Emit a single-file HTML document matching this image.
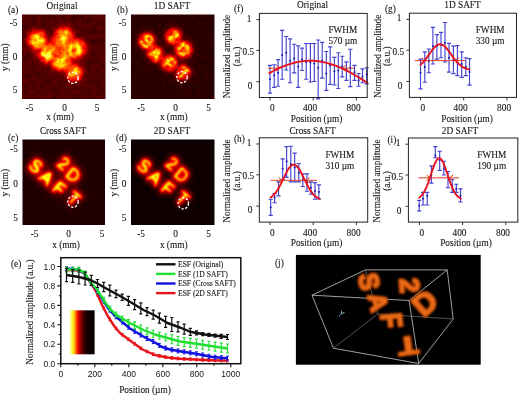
<!DOCTYPE html>
<html><head><meta charset="utf-8"><title>SAFT figure</title>
<style>html,body{margin:0;padding:0;background:#fff}svg{display:block}</style></head>
<body>
<svg width="520" height="396" viewBox="0 0 520 396">
<defs>

<filter id="hotA" filterUnits="userSpaceOnUse" x="-40" y="-40" width="200" height="200" color-interpolation-filters="sRGB">
<feGaussianBlur in="SourceGraphic" stdDeviation="1.5" result="a"/>
<feGaussianBlur in="SourceGraphic" stdDeviation="3.8" result="b"/>
<feComposite in="a" in2="b" operator="arithmetic" k1="0" k2="0.9" k3="1.0" k4="0" result="c"/>
<feTurbulence type="fractalNoise" baseFrequency="0.2" numOctaves="2" seed="4" result="n"/>
<feColorMatrix in="n" type="matrix" values="1 0 0 0 0 1 0 0 0 0 1 0 0 0 0 0 0 0 0 1" result="ng"/>
<feComposite in="c" in2="ng" operator="arithmetic" k1="0.9" k2="0.6" k3="0" k4="0"/>
<feComponentTransfer><feFuncA type="linear" slope="0" intercept="1"/></feComponentTransfer>
<feComponentTransfer>
<feFuncR type="table" tableValues="0.0 0.37 0.70 1 1 1 1 1 1"/>
<feFuncG type="table" tableValues="0 0 0 0.02 0.33 0.67 1 1 1"/>
<feFuncB type="table" tableValues="0 0 0 0 0 0 0.05 0.5 1"/>
</feComponentTransfer></filter>
<filter id="hotB" filterUnits="userSpaceOnUse" x="-40" y="-40" width="200" height="200" color-interpolation-filters="sRGB">
<feGaussianBlur in="SourceGraphic" stdDeviation="0.9" result="a"/>
<feGaussianBlur in="SourceGraphic" stdDeviation="3.2" result="b"/>
<feComposite in="a" in2="b" operator="arithmetic" k1="0" k2="1.0" k3="1.0" k4="0" result="c"/>
<feTurbulence type="fractalNoise" baseFrequency="0.26" numOctaves="2" seed="7" result="n"/>
<feColorMatrix in="n" type="matrix" values="1 0 0 0 0 1 0 0 0 0 1 0 0 0 0 0 0 0 0 1" result="ng"/>
<feComposite in="c" in2="ng" operator="arithmetic" k1="0.9" k2="0.6" k3="0" k4="0"/>
<feComponentTransfer><feFuncA type="linear" slope="0" intercept="1"/></feComponentTransfer>
<feComponentTransfer>
<feFuncR type="table" tableValues="0.0 0.37 0.70 1 1 1 1 1 1"/>
<feFuncG type="table" tableValues="0 0 0 0.02 0.33 0.67 1 1 1"/>
<feFuncB type="table" tableValues="0 0 0 0 0 0 0.05 0.5 1"/>
</feComponentTransfer></filter>
<filter id="hotC" filterUnits="userSpaceOnUse" x="-40" y="-40" width="200" height="200" color-interpolation-filters="sRGB">
<feGaussianBlur in="SourceGraphic" stdDeviation="1.15" result="a"/>
<feGaussianBlur in="SourceGraphic" stdDeviation="3.4" result="b"/>
<feGaussianBlur in="SourceGraphic" stdDeviation="6 0.9" result="h"/>
<feGaussianBlur in="SourceGraphic" stdDeviation="0.9 6" result="v"/>
<feComposite in="a" in2="b" operator="arithmetic" k1="0" k2="0.95" k3="1.2" k4="0" result="c"/>
<feComposite in="h" in2="v" operator="arithmetic" k1="0" k2="0.3" k3="0.3" k4="0" result="hv"/>
<feComposite in="c" in2="hv" operator="arithmetic" k1="0" k2="1" k3="1" k4="0"/>
<feComponentTransfer><feFuncA type="linear" slope="0" intercept="1"/></feComponentTransfer>
<feComponentTransfer>
<feFuncR type="table" tableValues="0.0 0.37 0.70 1 1 1 1 1 1"/>
<feFuncG type="table" tableValues="0 0 0 0.02 0.33 0.67 1 1 1"/>
<feFuncB type="table" tableValues="0 0 0 0 0 0 0.05 0.5 1"/>
</feComponentTransfer></filter>
<filter id="hotD" filterUnits="userSpaceOnUse" x="-40" y="-40" width="200" height="200" color-interpolation-filters="sRGB">
<feGaussianBlur in="SourceGraphic" stdDeviation="1.0" result="a"/>
<feGaussianBlur in="SourceGraphic" stdDeviation="3.2" result="b"/>
<feComposite in="a" in2="b" operator="arithmetic" k1="0" k2="1.0" k3="1.6" k4="0" result="c"/>

<feComponentTransfer><feFuncA type="linear" slope="0" intercept="1"/></feComponentTransfer>
<feComponentTransfer>
<feFuncR type="table" tableValues="0.0 0.37 0.70 1 1 1 1 1 1"/>
<feFuncG type="table" tableValues="0 0 0 0.02 0.33 0.67 1 1 1"/>
<feFuncB type="table" tableValues="0 0 0 0 0 0 0.05 0.5 1"/>
</feComponentTransfer></filter>
<filter id="soft" x="-20%" y="-20%" width="140%" height="140%"><feGaussianBlur stdDeviation="0.8"/></filter>
<linearGradient id="cbar" x1="0" y1="0" x2="1" y2="0">
<stop offset="0" stop-color="#fffff0"/><stop offset="0.07" stop-color="#ffff90"/><stop offset="0.15" stop-color="#ffee20"/><stop offset="0.22" stop-color="#ffb000"/><stop offset="0.29" stop-color="#ff5000"/><stop offset="0.36" stop-color="#e80000"/><stop offset="0.46" stop-color="#900000"/><stop offset="0.56" stop-color="#480000"/><stop offset="0.7" stop-color="#180000"/><stop offset="1" stop-color="#000"/>
</linearGradient>
</defs>
<rect width="520" height="396" fill="#fff"/>

<!-- panel a -->
<svg x="22" y="14.5" width="83.5" height="84.5" viewBox="0 0 83.5 84.5">
<g filter="url(#hotA)">
<rect x="-40" y="-40" width="200" height="200" fill="#0d0d0d"/>
<circle cx="15" cy="25.3" r="9.8" fill="#3e3e3e"/><circle cx="41.8" cy="20.8" r="9" fill="#3e3e3e"/><circle cx="54.5" cy="34" r="10" fill="#3e3e3e"/><circle cx="27" cy="39.5" r="9" fill="#3e3e3e"/><circle cx="40" cy="47.3" r="9.5" fill="#3e3e3e"/><circle cx="52.8" cy="58.8" r="8" fill="#3e3e3e"/><circle cx="33" cy="30.5" r="6.5" fill="#3e3e3e"/><circle cx="44" cy="35" r="6" fill="#3e3e3e"/>
<text transform="translate(42.5,21.8) rotate(40)" font-family="Liberation Sans, sans-serif" font-size="17" text-anchor="middle" dy="0.36em" fill="#3e3e3e" stroke="#3e3e3e" stroke-width="4.0" stroke-linejoin="round">2</text>
<text transform="translate(53,35) rotate(40)" font-family="Liberation Sans, sans-serif" font-size="17" text-anchor="middle" dy="0.36em" fill="#3e3e3e" stroke="#3e3e3e" stroke-width="4.0" stroke-linejoin="round">D</text>
<text transform="translate(16,26.5) rotate(40)" font-family="Liberation Sans, sans-serif" font-size="17" text-anchor="middle" dy="0.36em" fill="#3e3e3e" stroke="#3e3e3e" stroke-width="4.0" stroke-linejoin="round">S</text>
<text transform="translate(24.8,39.3) rotate(40)" font-family="Liberation Sans, sans-serif" font-size="17" text-anchor="middle" dy="0.36em" fill="#3e3e3e" stroke="#3e3e3e" stroke-width="4.0" stroke-linejoin="round">A</text>
<text transform="translate(38.5,49) rotate(40)" font-family="Liberation Sans, sans-serif" font-size="17" text-anchor="middle" dy="0.36em" fill="#3e3e3e" stroke="#3e3e3e" stroke-width="4.0" stroke-linejoin="round">F</text>
<text transform="translate(52,58.5) rotate(40)" font-family="Liberation Sans, sans-serif" font-size="17" text-anchor="middle" dy="0.36em" fill="#3e3e3e" stroke="#3e3e3e" stroke-width="4.0" stroke-linejoin="round">T</text>
<text transform="translate(42.5,21.8) rotate(40)" font-family="Liberation Sans, sans-serif" font-size="17" text-anchor="middle" dy="0.36em" fill="#747474" stroke="#747474" stroke-width="1.2" stroke-linejoin="round">2</text>
<text transform="translate(53,35) rotate(40)" font-family="Liberation Sans, sans-serif" font-size="17" text-anchor="middle" dy="0.36em" fill="#747474" stroke="#747474" stroke-width="1.2" stroke-linejoin="round">D</text>
<text transform="translate(16,26.5) rotate(40)" font-family="Liberation Sans, sans-serif" font-size="17" text-anchor="middle" dy="0.36em" fill="#747474" stroke="#747474" stroke-width="1.2" stroke-linejoin="round">S</text>
<text transform="translate(24.8,39.3) rotate(40)" font-family="Liberation Sans, sans-serif" font-size="17" text-anchor="middle" dy="0.36em" fill="#747474" stroke="#747474" stroke-width="1.2" stroke-linejoin="round">A</text>
<text transform="translate(38.5,49) rotate(40)" font-family="Liberation Sans, sans-serif" font-size="17" text-anchor="middle" dy="0.36em" fill="#747474" stroke="#747474" stroke-width="1.2" stroke-linejoin="round">F</text>
<text transform="translate(52,58.5) rotate(40)" font-family="Liberation Sans, sans-serif" font-size="17" text-anchor="middle" dy="0.36em" fill="#747474" stroke="#747474" stroke-width="1.2" stroke-linejoin="round">T</text>
</g>
<ellipse cx="51" cy="63.3" rx="5.2" ry="5.6" fill="none" stroke="#fff" stroke-width="1.3" stroke-dasharray="2.4 1.5"/>
</svg>
<text x="62" y="8.7" font-size="9.3" text-anchor="middle" font-family="Liberation Serif, serif" fill="#151515" stroke="#151515" stroke-width="0.1" >Original</text>
<text x="8" y="12.5" font-size="9.3" text-anchor="start" font-family="Liberation Serif, serif" fill="#151515" stroke="#151515" stroke-width="0.1" >(a)</text>
<text x="17.5" y="26" font-size="9.3" text-anchor="end" font-family="Liberation Serif, serif" fill="#151515" stroke="#151515" stroke-width="0.1" >-5</text>
<text x="17.5" y="59.5" font-size="9.3" text-anchor="end" font-family="Liberation Serif, serif" fill="#151515" stroke="#151515" stroke-width="0.1" >0</text>
<text x="17.5" y="93" font-size="9.3" text-anchor="end" font-family="Liberation Serif, serif" fill="#151515" stroke="#151515" stroke-width="0.1" >5</text>
<text x="29.5" y="111.0" font-size="9.3" text-anchor="middle" font-family="Liberation Serif, serif" fill="#151515" stroke="#151515" stroke-width="0.1" >-5</text>
<text x="64.5" y="111.0" font-size="9.3" text-anchor="middle" font-family="Liberation Serif, serif" fill="#151515" stroke="#151515" stroke-width="0.1" >0</text>
<text x="97" y="111.0" font-size="9.3" text-anchor="middle" font-family="Liberation Serif, serif" fill="#151515" stroke="#151515" stroke-width="0.1" >5</text>
<text transform="translate(8,57.25) rotate(-90)" font-size="9.3" text-anchor="middle" font-family="Liberation Serif, serif" fill="#151515" stroke="#151515" stroke-width="0.1">y (mm)</text>
<text x="60" y="119.7" font-size="9.3" text-anchor="middle" font-family="Liberation Serif, serif" fill="#151515" stroke="#151515" stroke-width="0.1" >x (mm)</text>
<!-- panel b -->
<svg x="131" y="14.5" width="83.5" height="84.5" viewBox="0 0 83.5 84.5">
<g filter="url(#hotB)">
<rect x="-40" y="-40" width="200" height="200" fill="#070707"/>
<circle cx="16" cy="26.5" r="9" fill="#2a2a2a"/><circle cx="42.5" cy="21.5" r="8.5" fill="#2a2a2a"/><circle cx="53" cy="35" r="9" fill="#2a2a2a"/><circle cx="25" cy="39.5" r="8" fill="#2a2a2a"/><circle cx="38.5" cy="49" r="8.5" fill="#2a2a2a"/><circle cx="52" cy="58.5" r="7.5" fill="#2a2a2a"/>
<text transform="translate(42.5,21.8) rotate(40)" font-family="Liberation Sans, sans-serif" font-size="17" text-anchor="middle" dy="0.36em" fill="#282828" stroke="#282828" stroke-width="2.4" stroke-linejoin="round">2</text>
<text transform="translate(53,35) rotate(40)" font-family="Liberation Sans, sans-serif" font-size="17" text-anchor="middle" dy="0.36em" fill="#282828" stroke="#282828" stroke-width="2.4" stroke-linejoin="round">D</text>
<text transform="translate(16,26.5) rotate(40)" font-family="Liberation Sans, sans-serif" font-size="17" text-anchor="middle" dy="0.36em" fill="#282828" stroke="#282828" stroke-width="2.4" stroke-linejoin="round">S</text>
<text transform="translate(24.8,39.3) rotate(40)" font-family="Liberation Sans, sans-serif" font-size="17" text-anchor="middle" dy="0.36em" fill="#282828" stroke="#282828" stroke-width="2.4" stroke-linejoin="round">A</text>
<text transform="translate(38.5,49) rotate(40)" font-family="Liberation Sans, sans-serif" font-size="17" text-anchor="middle" dy="0.36em" fill="#282828" stroke="#282828" stroke-width="2.4" stroke-linejoin="round">F</text>
<text transform="translate(52,58.5) rotate(40)" font-family="Liberation Sans, sans-serif" font-size="17" text-anchor="middle" dy="0.36em" fill="#282828" stroke="#282828" stroke-width="2.4" stroke-linejoin="round">T</text>
<text transform="translate(42.5,21.8) rotate(40)" font-family="Liberation Sans, sans-serif" font-size="17" text-anchor="middle" dy="0.36em" fill="#7e7e7e" stroke="#7e7e7e" stroke-width="0.6" stroke-linejoin="round">2</text>
<text transform="translate(53,35) rotate(40)" font-family="Liberation Sans, sans-serif" font-size="17" text-anchor="middle" dy="0.36em" fill="#7e7e7e" stroke="#7e7e7e" stroke-width="0.6" stroke-linejoin="round">D</text>
<text transform="translate(16,26.5) rotate(40)" font-family="Liberation Sans, sans-serif" font-size="17" text-anchor="middle" dy="0.36em" fill="#7e7e7e" stroke="#7e7e7e" stroke-width="0.6" stroke-linejoin="round">S</text>
<text transform="translate(24.8,39.3) rotate(40)" font-family="Liberation Sans, sans-serif" font-size="17" text-anchor="middle" dy="0.36em" fill="#7e7e7e" stroke="#7e7e7e" stroke-width="0.6" stroke-linejoin="round">A</text>
<text transform="translate(38.5,49) rotate(40)" font-family="Liberation Sans, sans-serif" font-size="17" text-anchor="middle" dy="0.36em" fill="#7e7e7e" stroke="#7e7e7e" stroke-width="0.6" stroke-linejoin="round">F</text>
<text transform="translate(52,58.5) rotate(40)" font-family="Liberation Sans, sans-serif" font-size="17" text-anchor="middle" dy="0.36em" fill="#7e7e7e" stroke="#7e7e7e" stroke-width="0.6" stroke-linejoin="round">T</text>
</g>
<ellipse cx="51" cy="62.7" rx="5.2" ry="5.6" fill="none" stroke="#fff" stroke-width="1.3" stroke-dasharray="2.4 1.5"/>
</svg>
<text x="172" y="8.7" font-size="9.3" text-anchor="middle" font-family="Liberation Serif, serif" fill="#151515" stroke="#151515" stroke-width="0.1" >1D SAFT</text>
<text x="117" y="12.5" font-size="9.3" text-anchor="start" font-family="Liberation Serif, serif" fill="#151515" stroke="#151515" stroke-width="0.1" >(b)</text>
<text x="126.5" y="26" font-size="9.3" text-anchor="end" font-family="Liberation Serif, serif" fill="#151515" stroke="#151515" stroke-width="0.1" >-5</text>
<text x="126.5" y="59.5" font-size="9.3" text-anchor="end" font-family="Liberation Serif, serif" fill="#151515" stroke="#151515" stroke-width="0.1" >0</text>
<text x="126.5" y="93" font-size="9.3" text-anchor="end" font-family="Liberation Serif, serif" fill="#151515" stroke="#151515" stroke-width="0.1" >5</text>
<text x="141" y="111.0" font-size="9.3" text-anchor="middle" font-family="Liberation Serif, serif" fill="#151515" stroke="#151515" stroke-width="0.1" >-5</text>
<text x="175.5" y="111.0" font-size="9.3" text-anchor="middle" font-family="Liberation Serif, serif" fill="#151515" stroke="#151515" stroke-width="0.1" >0</text>
<text x="208.7" y="111.0" font-size="9.3" text-anchor="middle" font-family="Liberation Serif, serif" fill="#151515" stroke="#151515" stroke-width="0.1" >5</text>
<text transform="translate(117,57.25) rotate(-90)" font-size="9.3" text-anchor="middle" font-family="Liberation Serif, serif" fill="#151515" stroke="#151515" stroke-width="0.1">y (mm)</text>
<text x="173.7" y="119.7" font-size="9.3" text-anchor="middle" font-family="Liberation Serif, serif" fill="#151515" stroke="#151515" stroke-width="0.1" >x (mm)</text>
<!-- panel c -->
<svg x="22.5" y="139.5" width="82.5" height="85.5" viewBox="0 0 82.5 85.5">
<g filter="url(#hotC)">
<rect x="-40" y="-40" width="200" height="200" fill="#040404"/>

<text transform="translate(41.3,23.7) rotate(40)" font-family="Liberation Sans, sans-serif" font-size="18" text-anchor="middle" dy="0.36em" fill="#6c6c6c" stroke="#6c6c6c" stroke-width="1.3" stroke-linejoin="round">2</text>
<text transform="translate(51,35.2) rotate(40)" font-family="Liberation Sans, sans-serif" font-size="18" text-anchor="middle" dy="0.36em" fill="#6c6c6c" stroke="#6c6c6c" stroke-width="1.3" stroke-linejoin="round">D</text>
<text transform="translate(13.6,26.4) rotate(40)" font-family="Liberation Sans, sans-serif" font-size="18" text-anchor="middle" dy="0.36em" fill="#6c6c6c" stroke="#6c6c6c" stroke-width="1.3" stroke-linejoin="round">S</text>
<text transform="translate(24.2,37.8) rotate(40)" font-family="Liberation Sans, sans-serif" font-size="18" text-anchor="middle" dy="0.36em" fill="#6c6c6c" stroke="#6c6c6c" stroke-width="1.3" stroke-linejoin="round">A</text>
<text transform="translate(36.9,48.8) rotate(40)" font-family="Liberation Sans, sans-serif" font-size="18" text-anchor="middle" dy="0.36em" fill="#6c6c6c" stroke="#6c6c6c" stroke-width="1.3" stroke-linejoin="round">F</text>
<text transform="translate(51.7,58.9) rotate(40)" font-family="Liberation Sans, sans-serif" font-size="18" text-anchor="middle" dy="0.36em" fill="#6c6c6c" stroke="#6c6c6c" stroke-width="1.3" stroke-linejoin="round">T</text>
</g>
<ellipse cx="50.5" cy="62.2" rx="5.2" ry="5.6" fill="none" stroke="#fff" stroke-width="1.3" stroke-dasharray="2.4 1.5"/>
</svg>
<text x="63" y="134.0" font-size="9.3" text-anchor="middle" font-family="Liberation Serif, serif" fill="#151515" stroke="#151515" stroke-width="0.1" >Cross SAFT</text>
<text x="8" y="140.5" font-size="9.3" text-anchor="start" font-family="Liberation Serif, serif" fill="#151515" stroke="#151515" stroke-width="0.1" >(c)</text>
<text x="18.0" y="152" font-size="9.3" text-anchor="end" font-family="Liberation Serif, serif" fill="#151515" stroke="#151515" stroke-width="0.1" >-5</text>
<text x="18.0" y="186.5" font-size="9.3" text-anchor="end" font-family="Liberation Serif, serif" fill="#151515" stroke="#151515" stroke-width="0.1" >0</text>
<text x="18.0" y="220.5" font-size="9.3" text-anchor="end" font-family="Liberation Serif, serif" fill="#151515" stroke="#151515" stroke-width="0.1" >5</text>
<text x="34.5" y="236.8" font-size="9.3" text-anchor="middle" font-family="Liberation Serif, serif" fill="#151515" stroke="#151515" stroke-width="0.1" >-5</text>
<text x="68.7" y="236.8" font-size="9.3" text-anchor="middle" font-family="Liberation Serif, serif" fill="#151515" stroke="#151515" stroke-width="0.1" >0</text>
<text x="102" y="236.8" font-size="9.3" text-anchor="middle" font-family="Liberation Serif, serif" fill="#151515" stroke="#151515" stroke-width="0.1" >5</text>
<text transform="translate(8,182.75) rotate(-90)" font-size="9.3" text-anchor="middle" font-family="Liberation Serif, serif" fill="#151515" stroke="#151515" stroke-width="0.1">y (mm)</text>
<text x="66" y="248.0" font-size="9.3" text-anchor="middle" font-family="Liberation Serif, serif" fill="#151515" stroke="#151515" stroke-width="0.1" >x (mm)</text>
<!-- panel d -->
<svg x="131" y="139.5" width="83.5" height="85.5" viewBox="0 0 83.5 85.5">
<g filter="url(#hotD)">
<rect x="-40" y="-40" width="200" height="200" fill="#020202"/>

<text transform="translate(41.3,23.7) rotate(40)" font-family="Liberation Sans, sans-serif" font-size="18" text-anchor="middle" dy="0.36em" fill="#6e6e6e" stroke="#6e6e6e" stroke-width="1.2" stroke-linejoin="round">2</text>
<text transform="translate(51,35.2) rotate(40)" font-family="Liberation Sans, sans-serif" font-size="18" text-anchor="middle" dy="0.36em" fill="#6e6e6e" stroke="#6e6e6e" stroke-width="1.2" stroke-linejoin="round">D</text>
<text transform="translate(13.6,26.4) rotate(40)" font-family="Liberation Sans, sans-serif" font-size="18" text-anchor="middle" dy="0.36em" fill="#6e6e6e" stroke="#6e6e6e" stroke-width="1.2" stroke-linejoin="round">S</text>
<text transform="translate(24.2,37.8) rotate(40)" font-family="Liberation Sans, sans-serif" font-size="18" text-anchor="middle" dy="0.36em" fill="#6e6e6e" stroke="#6e6e6e" stroke-width="1.2" stroke-linejoin="round">A</text>
<text transform="translate(36.9,48.8) rotate(40)" font-family="Liberation Sans, sans-serif" font-size="18" text-anchor="middle" dy="0.36em" fill="#6e6e6e" stroke="#6e6e6e" stroke-width="1.2" stroke-linejoin="round">F</text>
<text transform="translate(51.7,58.9) rotate(40)" font-family="Liberation Sans, sans-serif" font-size="18" text-anchor="middle" dy="0.36em" fill="#6e6e6e" stroke="#6e6e6e" stroke-width="1.2" stroke-linejoin="round">T</text>
</g>
<ellipse cx="52.3" cy="63.8" rx="5.2" ry="5.6" fill="none" stroke="#fff" stroke-width="1.3" stroke-dasharray="2.4 1.5"/>
</svg>
<text x="172" y="134.0" font-size="9.3" text-anchor="middle" font-family="Liberation Serif, serif" fill="#151515" stroke="#151515" stroke-width="0.1" >2D SAFT</text>
<text x="116" y="140.5" font-size="9.3" text-anchor="start" font-family="Liberation Serif, serif" fill="#151515" stroke="#151515" stroke-width="0.1" >(d)</text>
<text x="126.5" y="152" font-size="9.3" text-anchor="end" font-family="Liberation Serif, serif" fill="#151515" stroke="#151515" stroke-width="0.1" >-5</text>
<text x="126.5" y="186.5" font-size="9.3" text-anchor="end" font-family="Liberation Serif, serif" fill="#151515" stroke="#151515" stroke-width="0.1" >0</text>
<text x="126.5" y="220.5" font-size="9.3" text-anchor="end" font-family="Liberation Serif, serif" fill="#151515" stroke="#151515" stroke-width="0.1" >5</text>
<text x="141" y="236.8" font-size="9.3" text-anchor="middle" font-family="Liberation Serif, serif" fill="#151515" stroke="#151515" stroke-width="0.1" >-5</text>
<text x="175.5" y="236.8" font-size="9.3" text-anchor="middle" font-family="Liberation Serif, serif" fill="#151515" stroke="#151515" stroke-width="0.1" >0</text>
<text x="208.7" y="236.8" font-size="9.3" text-anchor="middle" font-family="Liberation Serif, serif" fill="#151515" stroke="#151515" stroke-width="0.1" >5</text>
<text transform="translate(117,182.75) rotate(-90)" font-size="9.3" text-anchor="middle" font-family="Liberation Serif, serif" fill="#151515" stroke="#151515" stroke-width="0.1">y (mm)</text>
<text x="173.7" y="248.0" font-size="9.3" text-anchor="middle" font-family="Liberation Serif, serif" fill="#151515" stroke="#151515" stroke-width="0.1" >x (mm)</text>
<!-- panel f -->
<path d="M270.0 65.4V93.1M267.9 65.4h4.2M267.9 93.1h4.2M274.2 64.7V87.3M272.1 64.7h4.2M272.1 87.3h4.2M278.1 59.6V86.2M276.0 59.6h4.2M276.0 86.2h4.2M282.2 30.3V79.2M280.1 30.3h4.2M280.1 79.2h4.2M286.2 36.5V70.0M284.1 36.5h4.2M284.1 70.0h4.2M290.1 38.8V82.7M288.0 38.8h4.2M288.0 82.7h4.2M294.2 44.2V72.8M292.1 44.2h4.2M292.1 72.8h4.2M298.2 45.8V87.3M296.1 45.8h4.2M296.1 87.3h4.2M302.1 48.1V70.5M300.0 48.1h4.2M300.0 70.5h4.2M306.2 43.5V79.2M304.1 43.5h4.2M304.1 79.2h4.2M310.4 43.5V82.0M308.3 43.5h4.2M308.3 82.0h4.2M314.3 43.5V81.5M312.2 43.5h4.2M312.2 81.5h4.2M318.2 40.0V98.9M316.1 40.0h4.2M316.1 98.9h4.2M322.2 42.3V78.1M320.1 42.3h4.2M320.1 78.1h4.2M326.3 51.5V90.3M324.2 51.5h4.2M324.2 90.3h4.2M330.2 46.9V84.3M328.1 46.9h4.2M328.1 84.3h4.2M334.4 57.3V85.0M332.3 57.3h4.2M332.3 85.0h4.2M338.3 52.7V88.5M336.2 52.7h4.2M336.2 88.5h4.2M342.2 56.2V76.9M340.1 56.2h4.2M340.1 76.9h4.2M346.4 61.9V80.4M344.3 61.9h4.2M344.3 80.4h4.2M350.3 49.2V86.6M348.2 49.2h4.2M348.2 86.6h4.2M354.5 65.4V80.4M352.4 65.4h4.2M352.4 80.4h4.2M358.6 73.5V86.2M356.5 73.5h4.2M356.5 86.2h4.2M362.5 68.9V82.7M360.4 68.9h4.2M360.4 82.7h4.2M366.7 67.7V83.9M364.6 67.7h4.2M364.6 83.9h4.2" stroke="#4444d0" stroke-width="1.15" fill="none"/>
<circle cx="270.0" cy="79.2" r="1.0" fill="#1818a8"/>
<circle cx="274.2" cy="75.3" r="1.0" fill="#1818a8"/>
<circle cx="278.1" cy="72.8" r="1.0" fill="#1818a8"/>
<circle cx="282.2" cy="55.0" r="1.0" fill="#1818a8"/>
<circle cx="286.2" cy="52.7" r="1.0" fill="#1818a8"/>
<circle cx="290.1" cy="60.8" r="1.0" fill="#1818a8"/>
<circle cx="294.2" cy="58.5" r="1.0" fill="#1818a8"/>
<circle cx="298.2" cy="66.5" r="1.0" fill="#1818a8"/>
<circle cx="302.1" cy="59.6" r="1.0" fill="#1818a8"/>
<circle cx="306.2" cy="61.9" r="1.0" fill="#1818a8"/>
<circle cx="310.4" cy="62.6" r="1.0" fill="#1818a8"/>
<circle cx="314.3" cy="63.5" r="1.0" fill="#1818a8"/>
<circle cx="318.2" cy="67.7" r="1.0" fill="#1818a8"/>
<circle cx="322.2" cy="60.8" r="1.0" fill="#1818a8"/>
<circle cx="326.3" cy="73.5" r="1.0" fill="#1818a8"/>
<circle cx="330.2" cy="65.4" r="1.0" fill="#1818a8"/>
<circle cx="334.4" cy="71.2" r="1.0" fill="#1818a8"/>
<circle cx="338.3" cy="70.5" r="1.0" fill="#1818a8"/>
<circle cx="342.2" cy="66.5" r="1.0" fill="#1818a8"/>
<circle cx="346.4" cy="68.9" r="1.0" fill="#1818a8"/>
<circle cx="350.3" cy="67.7" r="1.0" fill="#1818a8"/>
<circle cx="354.5" cy="72.3" r="1.0" fill="#1818a8"/>
<circle cx="358.6" cy="80.4" r="1.0" fill="#1818a8"/>
<circle cx="362.5" cy="76.5" r="1.0" fill="#1818a8"/>
<circle cx="366.7" cy="74.6" r="1.0" fill="#1818a8"/>
<path d="M342.0 68.2H354.2" stroke="#e04020" stroke-width="1.0"/>
<path d="M267.9 68.2H279.9" stroke="#e04020" stroke-width="1.0"/>
<path d="M276.3 65.4L279.9 68.2L276.3 71.0M345.6 65.4L342.0 68.2L345.6 71.0" stroke="#e04020" stroke-width="1.0" fill="none"/>
<path d="M269.3 73.1L271.8 71.8L274.2 70.5L276.7 69.3L279.1 68.2L281.6 67.1L284.0 66.1L286.5 65.2L288.9 64.4L291.4 63.6L293.8 62.9L296.3 62.3L298.7 61.9L301.2 61.4L303.6 61.1L306.1 60.9L308.5 60.8L311.0 60.8L313.4 60.8L315.9 61.0L318.4 61.3L320.8 61.6L323.3 62.1L325.7 62.6L328.2 63.3L330.6 64.0L333.1 64.8L335.5 65.7L338.0 66.6L340.4 67.7L342.9 68.8L345.3 69.9L347.8 71.2L350.2 72.5L352.7 73.8L355.1 75.2L357.6 76.7L360.0 78.1L362.5 79.7L364.9 81.2L367.4 82.8" stroke="#e8101c" stroke-width="1.9" fill="none" stroke-linecap="round"/>
<rect x="259.4" y="13.4" width="107.80000000000001" height="84.1" fill="none" stroke="#222" stroke-width="1"/>
<path d="M256.4 19.6h3M256.4 50.4h3M256.4 81.7h3M270.0 97.5v3M313.2 97.5v3M356.4 97.5v3" stroke="#222" stroke-width="0.9"/>
<text x="249.2" y="21.6" font-size="9.3" text-anchor="middle" font-family="Liberation Serif, serif" fill="#151515" stroke="#151515" stroke-width="0.1" >1</text>
<text x="248.39999999999998" y="54.9" font-size="9.3" text-anchor="middle" font-family="Liberation Serif, serif" fill="#151515" stroke="#151515" stroke-width="0.1" >0.5</text>
<text x="250.09999999999997" y="89.0" font-size="9.3" text-anchor="middle" font-family="Liberation Serif, serif" fill="#151515" stroke="#151515" stroke-width="0.1" >0</text>
<text x="272.4" y="111.3" font-size="9.3" text-anchor="middle" font-family="Liberation Serif, serif" fill="#151515" stroke="#151515" stroke-width="0.1" >0</text>
<text x="310.09999999999997" y="111.3" font-size="9.3" text-anchor="middle" font-family="Liberation Serif, serif" fill="#151515" stroke="#151515" stroke-width="0.1" >400</text>
<text x="353.59999999999997" y="111.3" font-size="9.3" text-anchor="middle" font-family="Liberation Serif, serif" fill="#151515" stroke="#151515" stroke-width="0.1" >800</text>
<text x="316.59999999999997" y="121.8" font-size="9.3" text-anchor="middle" font-family="Liberation Serif, serif" fill="#151515" stroke="#151515" stroke-width="0.1" >Position (µm)</text>
<text x="312.5" y="8" font-size="9.3" text-anchor="middle" font-family="Liberation Serif, serif" fill="#151515" stroke="#151515" stroke-width="0.1" >Original</text>
<text x="234" y="11.9" font-size="9.3" text-anchor="start" font-family="Liberation Serif, serif" fill="#151515" stroke="#151515" stroke-width="0.1" >(f)</text>
<text x="328.4" y="33.2" font-size="9.3" text-anchor="start" font-family="Liberation Serif, serif" fill="#151515" stroke="#151515" stroke-width="0.1" >FWHM</text>
<text x="328.4" y="44.4" font-size="9.3" text-anchor="start" font-family="Liberation Serif, serif" fill="#151515" stroke="#151515" stroke-width="0.1" >570 µm</text>
<text transform="translate(230.3,56.45) rotate(-90)" font-size="9.3" text-anchor="middle" font-family="Liberation Serif, serif" fill="#151515" stroke="#151515" stroke-width="0.1">Normalized amplitude</text>
<text transform="translate(239.5,56.45) rotate(-90)" font-size="9.3" text-anchor="middle" font-family="Liberation Serif, serif" fill="#151515" stroke="#151515" stroke-width="0.1">(a.u.)</text>
<!-- panel g -->
<path d="M420.5 59.1V88.8M418.4 59.1h4.2M418.4 88.8h4.2M424.8 51.9V82.2M422.7 51.9h4.2M422.7 82.2h4.2M428.8 49.0V72.7M426.7 49.0h4.2M426.7 72.7h4.2M432.9 27.4V64.0M430.8 27.4h4.2M430.8 64.0h4.2M436.9 34.6V59.1M434.8 34.6h4.2M434.8 59.1h4.2M441.0 32.3V57.7M438.9 32.3h4.2M438.9 57.7h4.2M445.0 22.5V62.0M442.9 22.5h4.2M442.9 62.0h4.2M449.0 43.3V72.1M446.9 43.3h4.2M446.9 72.1h4.2M453.4 46.1V73.6M451.3 46.1h4.2M451.3 73.6h4.2M457.4 45.6V75.6M455.3 45.6h4.2M455.3 75.6h4.2M461.7 51.9V77.3M459.6 51.9h4.2M459.6 77.3h4.2M465.8 57.7V75.6M463.7 57.7h4.2M463.7 75.6h4.2M469.5 58.6V85.1M467.4 58.6h4.2M467.4 85.1h4.2" stroke="#4444d0" stroke-width="1.15" fill="none"/>
<circle cx="420.5" cy="72.7" r="1.0" fill="#1818a8"/>
<circle cx="424.8" cy="66.9" r="1.0" fill="#1818a8"/>
<circle cx="428.8" cy="61.1" r="1.0" fill="#1818a8"/>
<circle cx="432.9" cy="46.1" r="1.0" fill="#1818a8"/>
<circle cx="436.9" cy="46.1" r="1.0" fill="#1818a8"/>
<circle cx="441.0" cy="44.7" r="1.0" fill="#1818a8"/>
<circle cx="445.0" cy="42.7" r="1.0" fill="#1818a8"/>
<circle cx="449.0" cy="57.7" r="1.0" fill="#1818a8"/>
<circle cx="453.4" cy="60.0" r="1.0" fill="#1818a8"/>
<circle cx="457.4" cy="60.6" r="1.0" fill="#1818a8"/>
<circle cx="461.7" cy="64.0" r="1.0" fill="#1818a8"/>
<circle cx="465.8" cy="66.9" r="1.0" fill="#1818a8"/>
<circle cx="469.5" cy="72.1" r="1.0" fill="#1818a8"/>
<path d="M414.7 60.6H465.2" stroke="#e04020" stroke-width="1.0"/>
<path d="M421.8 57.8L425.4 60.6L421.8 63.4M459.0 57.8L455.4 60.6L459.0 63.4" stroke="#e04020" stroke-width="1.0" fill="none"/>
<path d="M420.5 64.9L421.7 63.7L422.9 62.5L424.2 61.1L425.4 59.5L426.6 57.9L427.8 56.2L429.1 54.4L430.3 52.7L431.5 51.0L432.7 49.4L434.0 47.9L435.2 46.6L436.4 45.6L437.6 44.8L438.9 44.3L440.1 44.1L441.3 44.3L442.5 44.8L443.8 45.6L445.0 46.6L446.2 47.9L447.4 49.4L448.7 51.0L449.9 52.7L451.1 54.4L452.3 56.2L453.6 57.9L454.8 59.5L456.0 61.1L457.3 62.5L458.5 63.7L459.7 64.9L460.9 65.8L462.2 66.7L463.4 67.4L464.6 68.0L465.8 68.4L467.1 68.8L468.3 69.1L469.5 69.4" stroke="#e8101c" stroke-width="1.9" fill="none" stroke-linecap="round"/>
<rect x="409.4" y="13.2" width="107.10000000000002" height="84.2" fill="none" stroke="#222" stroke-width="1"/>
<path d="M406.4 19.4h3M406.4 50.2h3M406.4 81.5h3M420.5 97.4v3M463.7 97.4v3M506.9 97.4v3" stroke="#222" stroke-width="0.9"/>
<text x="399.2" y="21.4" font-size="9.3" text-anchor="middle" font-family="Liberation Serif, serif" fill="#151515" stroke="#151515" stroke-width="0.1" >1</text>
<text x="398.4" y="54.7" font-size="9.3" text-anchor="middle" font-family="Liberation Serif, serif" fill="#151515" stroke="#151515" stroke-width="0.1" >0.5</text>
<text x="400.09999999999997" y="88.8" font-size="9.3" text-anchor="middle" font-family="Liberation Serif, serif" fill="#151515" stroke="#151515" stroke-width="0.1" >0</text>
<text x="422.9" y="111.2" font-size="9.3" text-anchor="middle" font-family="Liberation Serif, serif" fill="#151515" stroke="#151515" stroke-width="0.1" >0</text>
<text x="460.59999999999997" y="111.2" font-size="9.3" text-anchor="middle" font-family="Liberation Serif, serif" fill="#151515" stroke="#151515" stroke-width="0.1" >400</text>
<text x="504.09999999999997" y="111.2" font-size="9.3" text-anchor="middle" font-family="Liberation Serif, serif" fill="#151515" stroke="#151515" stroke-width="0.1" >800</text>
<text x="467.09999999999997" y="121.7" font-size="9.3" text-anchor="middle" font-family="Liberation Serif, serif" fill="#151515" stroke="#151515" stroke-width="0.1" >Position (µm)</text>
<text x="462.5" y="8" font-size="9.3" text-anchor="middle" font-family="Liberation Serif, serif" fill="#151515" stroke="#151515" stroke-width="0.1" >1D SAFT</text>
<text x="385" y="11.7" font-size="9.3" text-anchor="start" font-family="Liberation Serif, serif" fill="#151515" stroke="#151515" stroke-width="0.1" >(g)</text>
<text x="475.7" y="33.0" font-size="9.3" text-anchor="start" font-family="Liberation Serif, serif" fill="#151515" stroke="#151515" stroke-width="0.1" >FWHM</text>
<text x="475.7" y="44.2" font-size="9.3" text-anchor="start" font-family="Liberation Serif, serif" fill="#151515" stroke="#151515" stroke-width="0.1" >330 µm</text>
<text transform="translate(380.8,56.300000000000004) rotate(-90)" font-size="9.3" text-anchor="middle" font-family="Liberation Serif, serif" fill="#151515" stroke="#151515" stroke-width="0.1">Normalized amplitude</text>
<text transform="translate(390,56.300000000000004) rotate(-90)" font-size="9.3" text-anchor="middle" font-family="Liberation Serif, serif" fill="#151515" stroke="#151515" stroke-width="0.1">(a.u.)</text>
<!-- panel h -->
<path d="M270.7 199.2V215.4M268.6 199.2h4.2M268.6 215.4h4.2M274.6 193.5V202.7M272.5 193.5h4.2M272.5 202.7h4.2M278.5 181.9V195.8M276.4 181.9h4.2M276.4 195.8h4.2M282.7 158.8V179.6M280.6 158.8h4.2M280.6 179.6h4.2M286.6 146.6V177.3M284.5 146.6h4.2M284.5 177.3h4.2M290.8 146.2V181.9M288.7 146.2h4.2M288.7 181.9h4.2M294.7 153.1V181.9M292.6 153.1h4.2M292.6 181.9h4.2M298.8 163.5V181.9M296.7 163.5h4.2M296.7 181.9h4.2M302.8 173.8V186.5M300.7 173.8h4.2M300.7 186.5h4.2M306.9 173.8V191.2M304.8 173.8h4.2M304.8 191.2h4.2M310.9 181.9V194.2M308.8 181.9h4.2M308.8 194.2h4.2M315.0 182.6V199.2M312.9 182.6h4.2M312.9 199.2h4.2M318.9 184.9V198.8M316.8 184.9h4.2M316.8 198.8h4.2" stroke="#4444d0" stroke-width="1.15" fill="none"/>
<circle cx="270.7" cy="207.3" r="1.0" fill="#1818a8"/>
<circle cx="274.6" cy="197.6" r="1.0" fill="#1818a8"/>
<circle cx="278.5" cy="188.9" r="1.0" fill="#1818a8"/>
<circle cx="282.7" cy="168.8" r="1.0" fill="#1818a8"/>
<circle cx="286.6" cy="161.2" r="1.0" fill="#1818a8"/>
<circle cx="290.8" cy="164.2" r="1.0" fill="#1818a8"/>
<circle cx="294.7" cy="167.6" r="1.0" fill="#1818a8"/>
<circle cx="298.8" cy="172.7" r="1.0" fill="#1818a8"/>
<circle cx="302.8" cy="180.3" r="1.0" fill="#1818a8"/>
<circle cx="306.9" cy="182.6" r="1.0" fill="#1818a8"/>
<circle cx="310.9" cy="187.7" r="1.0" fill="#1818a8"/>
<circle cx="315.0" cy="190.9" r="1.0" fill="#1818a8"/>
<circle cx="318.9" cy="191.9" r="1.0" fill="#1818a8"/>
<path d="M270.7 180.3H316.9" stroke="#e04020" stroke-width="1.0"/>
<path d="M278.6 177.5L282.2 180.3L278.6 183.1M309.8 177.5L306.2 180.3L309.8 183.1" stroke="#e04020" stroke-width="1.0" fill="none"/>
<path d="M270.7 197.4L271.9 196.5L273.1 195.4L274.4 194.2L275.6 192.7L276.8 191.0L278.0 189.0L279.3 186.9L280.5 184.6L281.7 182.2L282.9 179.7L284.1 177.1L285.4 174.6L286.6 172.2L287.8 170.0L289.0 168.1L290.3 166.6L291.5 165.5L292.7 164.8L293.9 164.6L295.2 164.9L296.4 165.7L297.6 167.0L298.8 168.6L300.0 170.6L301.3 172.8L302.5 175.3L303.7 177.8L304.9 180.3L306.2 182.8L307.4 185.2L308.6 187.5L309.8 189.6L311.1 191.4L312.3 193.1L313.5 194.5L314.7 195.7L316.0 196.7L317.2 197.6L318.4 198.2L319.6 198.8" stroke="#e8101c" stroke-width="1.9" fill="none" stroke-linecap="round"/>
<rect x="259.3" y="137.8" width="108.39999999999998" height="84.29999999999998" fill="none" stroke="#222" stroke-width="1"/>
<path d="M256.3 144.0h3M256.3 174.8h3M256.3 206.1h3M270.0 222.1v3M313.2 222.1v3M356.4 222.1v3" stroke="#222" stroke-width="0.9"/>
<text x="249.10000000000002" y="146.0" font-size="9.3" text-anchor="middle" font-family="Liberation Serif, serif" fill="#151515" stroke="#151515" stroke-width="0.1" >1</text>
<text x="248.3" y="179.3" font-size="9.3" text-anchor="middle" font-family="Liberation Serif, serif" fill="#151515" stroke="#151515" stroke-width="0.1" >0.5</text>
<text x="250.0" y="213.4" font-size="9.3" text-anchor="middle" font-family="Liberation Serif, serif" fill="#151515" stroke="#151515" stroke-width="0.1" >0</text>
<text x="272.4" y="235.9" font-size="9.3" text-anchor="middle" font-family="Liberation Serif, serif" fill="#151515" stroke="#151515" stroke-width="0.1" >0</text>
<text x="310.09999999999997" y="235.9" font-size="9.3" text-anchor="middle" font-family="Liberation Serif, serif" fill="#151515" stroke="#151515" stroke-width="0.1" >400</text>
<text x="353.59999999999997" y="235.9" font-size="9.3" text-anchor="middle" font-family="Liberation Serif, serif" fill="#151515" stroke="#151515" stroke-width="0.1" >800</text>
<text x="316.59999999999997" y="246.4" font-size="9.3" text-anchor="middle" font-family="Liberation Serif, serif" fill="#151515" stroke="#151515" stroke-width="0.1" >Position (µm)</text>
<text x="312.5" y="134" font-size="9.3" text-anchor="middle" font-family="Liberation Serif, serif" fill="#151515" stroke="#151515" stroke-width="0.1" >Cross SAFT</text>
<text x="234" y="142.3" font-size="9.3" text-anchor="start" font-family="Liberation Serif, serif" fill="#151515" stroke="#151515" stroke-width="0.1" >(h)</text>
<text x="325.4" y="157.60000000000002" font-size="9.3" text-anchor="start" font-family="Liberation Serif, serif" fill="#151515" stroke="#151515" stroke-width="0.1" >FWHM</text>
<text x="325.4" y="168.8" font-size="9.3" text-anchor="start" font-family="Liberation Serif, serif" fill="#151515" stroke="#151515" stroke-width="0.1" >310 µm</text>
<text transform="translate(230.3,180.95) rotate(-90)" font-size="9.3" text-anchor="middle" font-family="Liberation Serif, serif" fill="#151515" stroke="#151515" stroke-width="0.1">Normalized amplitude</text>
<text transform="translate(239.5,180.95) rotate(-90)" font-size="9.3" text-anchor="middle" font-family="Liberation Serif, serif" fill="#151515" stroke="#151515" stroke-width="0.1">(a.u.)</text>
<!-- panel i -->
<path d="M419.2 200.4V210.8M417.1 200.4h4.2M417.1 210.8h4.2M423.1 192.3V205.0M421.0 192.3h4.2M421.0 205.0h4.2M427.2 192.3V205.0M425.1 192.3h4.2M425.1 205.0h4.2M431.4 165.8V183.1M429.3 165.8h4.2M429.3 183.1h4.2M435.3 146.6V157.7M433.2 146.6h4.2M433.2 157.7h4.2M439.7 151.2V170.4M437.6 151.2h4.2M437.6 170.4h4.2M443.8 161.2V175.0M441.7 161.2h4.2M441.7 175.0h4.2M448.0 171.5V187.7M445.9 171.5h4.2M445.9 187.7h4.2M452.2 179.6V192.3M450.1 179.6h4.2M450.1 192.3h4.2M456.3 184.2V192.3M454.2 184.2h4.2M454.2 192.3h4.2M460.5 188.9V202.0M458.4 188.9h4.2M458.4 202.0h4.2" stroke="#4444d0" stroke-width="1.15" fill="none"/>
<circle cx="419.2" cy="205.7" r="1.0" fill="#1818a8"/>
<circle cx="423.1" cy="198.8" r="1.0" fill="#1818a8"/>
<circle cx="427.2" cy="195.8" r="1.0" fill="#1818a8"/>
<circle cx="431.4" cy="175.0" r="1.0" fill="#1818a8"/>
<circle cx="435.3" cy="155.4" r="1.0" fill="#1818a8"/>
<circle cx="439.7" cy="160.0" r="1.0" fill="#1818a8"/>
<circle cx="443.8" cy="168.8" r="1.0" fill="#1818a8"/>
<circle cx="448.0" cy="176.2" r="1.0" fill="#1818a8"/>
<circle cx="452.2" cy="185.4" r="1.0" fill="#1818a8"/>
<circle cx="456.3" cy="188.9" r="1.0" fill="#1818a8"/>
<circle cx="460.5" cy="195.8" r="1.0" fill="#1818a8"/>
<path d="M418.5 177.8H458.9" stroke="#e04020" stroke-width="1.0"/>
<path d="M426.4 175.0L430.0 177.8L426.4 180.6M453.2 175.0L449.6 177.8L453.2 180.6" stroke="#e04020" stroke-width="1.0" fill="none"/>
<path d="M419.2 197.7L420.2 196.9L421.2 195.9L422.3 194.7L423.3 193.2L424.4 191.5L425.4 189.4L426.5 187.1L427.5 184.5L428.6 181.6L429.6 178.6L430.6 175.5L431.7 172.3L432.7 169.2L433.8 166.3L434.8 163.7L435.9 161.5L436.9 159.8L438.0 158.6L439.0 158.2L440.0 158.4L441.1 159.2L442.1 160.6L443.2 162.6L444.2 165.0L445.3 167.8L446.3 170.9L447.4 174.0L448.4 177.2L449.4 180.3L450.5 183.2L451.5 186.0L452.6 188.4L453.6 190.6L454.7 192.5L455.7 194.1L456.8 195.4L457.8 196.5L458.8 197.3L459.9 198.0L460.9 198.5" stroke="#e8101c" stroke-width="1.9" fill="none" stroke-linecap="round"/>
<rect x="408.4" y="138" width="109.39999999999998" height="84.1" fill="none" stroke="#222" stroke-width="1"/>
<path d="M405.4 144.2h3M405.4 175.0h3M405.4 206.3h3M419.4 222.1v3M462.6 222.1v3M505.8 222.1v3" stroke="#222" stroke-width="0.9"/>
<text x="398.2" y="146.2" font-size="9.3" text-anchor="middle" font-family="Liberation Serif, serif" fill="#151515" stroke="#151515" stroke-width="0.1" >1</text>
<text x="397.4" y="179.5" font-size="9.3" text-anchor="middle" font-family="Liberation Serif, serif" fill="#151515" stroke="#151515" stroke-width="0.1" >0.5</text>
<text x="399.09999999999997" y="213.6" font-size="9.3" text-anchor="middle" font-family="Liberation Serif, serif" fill="#151515" stroke="#151515" stroke-width="0.1" >0</text>
<text x="421.79999999999995" y="235.9" font-size="9.3" text-anchor="middle" font-family="Liberation Serif, serif" fill="#151515" stroke="#151515" stroke-width="0.1" >0</text>
<text x="459.49999999999994" y="235.9" font-size="9.3" text-anchor="middle" font-family="Liberation Serif, serif" fill="#151515" stroke="#151515" stroke-width="0.1" >400</text>
<text x="502.99999999999994" y="235.9" font-size="9.3" text-anchor="middle" font-family="Liberation Serif, serif" fill="#151515" stroke="#151515" stroke-width="0.1" >800</text>
<text x="465.99999999999994" y="246.4" font-size="9.3" text-anchor="middle" font-family="Liberation Serif, serif" fill="#151515" stroke="#151515" stroke-width="0.1" >Position (µm)</text>
<text x="460" y="134" font-size="9.3" text-anchor="middle" font-family="Liberation Serif, serif" fill="#151515" stroke="#151515" stroke-width="0.1" >2D SAFT</text>
<text x="387.5" y="142.5" font-size="9.3" text-anchor="start" font-family="Liberation Serif, serif" fill="#151515" stroke="#151515" stroke-width="0.1" >(i)</text>
<text x="477.3" y="157.8" font-size="9.3" text-anchor="start" font-family="Liberation Serif, serif" fill="#151515" stroke="#151515" stroke-width="0.1" >FWHM</text>
<text x="477.3" y="169" font-size="9.3" text-anchor="start" font-family="Liberation Serif, serif" fill="#151515" stroke="#151515" stroke-width="0.1" >190 µm</text>
<text transform="translate(380.3,181.05) rotate(-90)" font-size="9.3" text-anchor="middle" font-family="Liberation Serif, serif" fill="#151515" stroke="#151515" stroke-width="0.1">Normalized amplitude</text>
<text transform="translate(389.5,181.05) rotate(-90)" font-size="9.3" text-anchor="middle" font-family="Liberation Serif, serif" fill="#151515" stroke="#151515" stroke-width="0.1">(a.u.)</text>
<!-- panel e -->
<path d="M66.5 268.7V271.3M65.2 268.7h2.6M65.2 271.3h2.6M72.7 268.9V271.5M71.4 268.9h2.6M71.4 271.5h2.6M78.9 269.2V271.8M77.6 269.2h2.6M77.6 271.8h2.6M85.1 272.8V275.4M83.8 272.8h2.6M83.8 275.4h2.6M91.3 282.5V285.1M90.0 282.5h2.6M90.0 285.1h2.6M97.5 293.4V296.0M96.2 293.4h2.6M96.2 296.0h2.6M103.7 306.9V309.5M102.4 306.9h2.6M102.4 309.5h2.6M109.8 318.0V320.6M108.5 318.0h2.6M108.5 320.6h2.6M116.0 327.0V329.6M114.7 327.0h2.6M114.7 329.6h2.6M122.2 333.4V336.0M120.9 333.4h2.6M120.9 336.0h2.6M128.4 338.0V340.6M127.1 338.0h2.6M127.1 340.6h2.6M134.6 342.5V345.1M133.3 342.5h2.6M133.3 345.1h2.6M140.8 347.0V349.6M139.5 347.0h2.6M139.5 349.6h2.6M147.0 350.2V352.8M145.7 350.2h2.6M145.7 352.8h2.6M153.2 352.9V355.5M151.9 352.9h2.6M151.9 355.5h2.6M159.4 354.6V357.2M158.1 354.6h2.6M158.1 357.2h2.6M165.6 355.8V358.4M164.3 355.8h2.6M164.3 358.4h2.6M171.8 356.6V359.2M170.5 356.6h2.6M170.5 359.2h2.6M178.0 357.2V359.8M176.7 357.2h2.6M176.7 359.8h2.6M184.2 357.6V360.2M182.9 357.6h2.6M182.9 360.2h2.6M190.3 357.9V360.5M189.0 357.9h2.6M189.0 360.5h2.6M196.5 358.3V360.9M195.2 358.3h2.6M195.2 360.9h2.6M202.7 358.6V361.2M201.4 358.6h2.6M201.4 361.2h2.6M208.9 358.8V361.4M207.6 358.8h2.6M207.6 361.4h2.6M215.1 359.0V361.6M213.8 359.0h2.6M213.8 361.6h2.6M221.3 359.2V361.8M220.0 359.2h2.6M220.0 361.8h2.6M227.5 359.4V362.0M226.2 359.4h2.6M226.2 362.0h2.6" stroke="#e8141c" stroke-width="1.0" fill="none"/>
<path d="M66.5 270L79 270.5L85 274L90.5 282.5L96.5 292.5L102 305L108 316.5L114.5 326.5L120 333L130 340.5L142.5 349.5L155 355L167.5 357.5L180 358.7L205 360L227.5 360.7" stroke="#e8141c" stroke-width="2.4" fill="none" stroke-linejoin="round"/>
<path d="M66.5 266.5V270.5M65.1 266.5h2.8M65.1 270.5h2.8M72.7 267.2V271.2M71.3 267.2h2.8M71.3 271.2h2.8M78.9 268.0V272.0M77.5 268.0h2.8M77.5 272.0h2.8M85.1 272.1V276.1M83.7 272.1h2.8M83.7 276.1h2.8M91.3 281.4V285.4M89.9 281.4h2.8M89.9 285.4h2.8M97.5 289.1V293.1M96.1 289.1h2.8M96.1 293.1h2.8M103.7 299.1V303.1M102.3 299.1h2.8M102.3 303.1h2.8M109.8 308.1V312.1M108.4 308.1h2.8M108.4 312.1h2.8M116.0 314.8V318.8M114.6 314.8h2.8M114.6 318.8h2.8M122.2 320.0V324.0M120.8 320.0h2.8M120.8 324.0h2.8M128.4 325.2V329.2M127.0 325.2h2.8M127.0 329.2h2.8M134.6 329.3V333.3M133.2 329.3h2.8M133.2 333.3h2.8M140.8 333.0V337.0M139.4 333.0h2.8M139.4 337.0h2.8M147.0 336.5V340.5M145.6 336.5h2.8M145.6 340.5h2.8M153.2 339.6V343.6M151.8 339.6h2.8M151.8 343.6h2.8M159.4 343.3V347.3M158.0 343.3h2.8M158.0 347.3h2.8M165.6 346.1V350.1M164.2 346.1h2.8M164.2 350.1h2.8M171.8 347.8V351.8M170.4 347.8h2.8M170.4 351.8h2.8M178.0 348.9V352.9M176.6 348.9h2.8M176.6 352.9h2.8M184.2 349.8V353.8M182.8 349.8h2.8M182.8 353.8h2.8M190.3 350.8V354.8M188.9 350.8h2.8M188.9 354.8h2.8M196.5 351.8V355.8M195.1 351.8h2.8M195.1 355.8h2.8M202.7 353.0V357.0M201.3 353.0h2.8M201.3 357.0h2.8M208.9 354.3V358.3M207.5 354.3h2.8M207.5 358.3h2.8M215.1 355.2V359.2M213.7 355.2h2.8M213.7 359.2h2.8M221.3 355.7V359.7M219.9 355.7h2.8M219.9 359.7h2.8M227.5 356.2V360.2M226.1 356.2h2.8M226.1 360.2h2.8" stroke="#1010e0" stroke-width="1.0" fill="none"/>
<path d="M66.5 268.5L79 270L85 274L90.5 282.5L96.5 289.5L102 298.5L108 308L114.5 315.5L120.5 320.5L130 328.5L145 337.5L155 342.5L162 347L170 349.5L180 351.2L196 353.7L212.5 357L227.5 358.2" stroke="#1010e0" stroke-width="2.4" fill="none" stroke-linejoin="round"/>
<path d="M66.5 267.0V272.0M65.0 267.0h3.0M65.0 272.0h3.0M72.7 267.0V272.0M71.2 267.0h3.0M71.2 272.0h3.0M78.9 267.0V272.0M77.4 267.0h3.0M77.4 272.0h3.0M85.1 271.1V276.1M83.6 271.1h3.0M83.6 276.1h3.0M91.3 280.4V285.4M89.8 280.4h3.0M89.8 285.4h3.0M97.5 287.7V292.7M96.0 287.7h3.0M96.0 292.7h3.0M103.7 297.3V302.3M102.2 297.3h3.0M102.2 302.3h3.0M109.8 306.0V311.0M108.3 306.0h3.0M108.3 311.0h3.0M116.0 312.0V317.0M114.5 312.0h3.0M114.5 317.0h3.0M122.2 316.0V321.0M120.7 316.0h3.0M120.7 321.0h3.0M128.4 319.6V324.6M126.9 319.6h3.0M126.9 324.6h3.0M134.6 321.9V328.9M133.1 321.9h3.0M133.1 328.9h3.0M140.8 325.1V332.1M139.3 325.1h3.0M139.3 332.1h3.0M147.0 327.9V334.9M145.5 327.9h3.0M145.5 334.9h3.0M153.2 330.3V337.3M151.7 330.3h3.0M151.7 337.3h3.0M159.4 332.3V339.3M157.9 332.3h3.0M157.9 339.3h3.0M165.6 334.0V341.0M164.1 334.0h3.0M164.1 341.0h3.0M171.8 334.7V343.7M170.3 334.7h3.0M170.3 343.7h3.0M178.0 336.4V345.4M176.5 336.4h3.0M176.5 345.4h3.0M184.2 337.6V346.6M182.7 337.6h3.0M182.7 346.6h3.0M190.3 338.4V347.4M188.8 338.4h3.0M188.8 347.4h3.0M196.5 339.3V348.3M195.0 339.3h3.0M195.0 348.3h3.0M202.7 340.2V349.2M201.2 340.2h3.0M201.2 349.2h3.0M208.9 341.2V350.2M207.4 341.2h3.0M207.4 350.2h3.0M215.1 342.1V351.1M213.6 342.1h3.0M213.6 351.1h3.0M221.3 343.1V352.1M219.8 343.1h3.0M219.8 352.1h3.0M227.5 344.0V353.0M226.0 344.0h3.0M226.0 353.0h3.0" stroke="#20e030" stroke-width="1.1" fill="none"/>
<path d="M66.5 269.5L79 269.5L85 273.5L90.5 282L96.5 288.7L102 297.3L108 306.5L114.5 313.5L120.5 317.5L130 323L143.5 330L155 334.5L162 336.5L180 341.5L196 343.7L212.5 346.2L227.5 348.5" stroke="#20e030" stroke-width="2.4" fill="none" stroke-linejoin="round"/>
<path d="M66.5 268.4V281.6M64.9 268.4h3.2M64.9 281.6h3.2M72.7 269.6V282.4M71.1 269.6h3.2M71.1 282.4h3.2M78.9 270.0V284.0M77.3 270.0h3.2M77.3 284.0h3.2M85.1 272.2V285.0M83.5 272.2h3.2M83.5 285.0h3.2M91.3 275.4V285.4M89.7 275.4h3.2M89.7 285.4h3.2M97.5 279.5V287.5M95.9 279.5h3.2M95.9 287.5h3.2M103.7 282.3V291.7M102.1 282.3h3.2M102.1 291.7h3.2M109.8 285.1V295.9M108.2 285.1h3.2M108.2 295.9h3.2M116.0 290.2V297.6M114.4 290.2h3.2M114.4 297.6h3.2M122.2 294.1V300.5M120.6 294.1h3.2M120.6 300.5h3.2M128.4 296.4V305.4M126.8 296.4h3.2M126.8 305.4h3.2M134.6 299.6V309.6M133.0 299.6h3.2M133.0 309.6h3.2M140.8 302.9V313.9M139.2 302.9h3.2M139.2 313.9h3.2M147.0 307.7V315.7M145.4 307.7h3.2M145.4 315.7h3.2M153.2 310.1V319.1M151.6 310.1h3.2M151.6 319.1h3.2M159.4 313.1V323.1M157.8 313.1h3.2M157.8 323.1h3.2M165.6 316.3V327.3M164.0 316.3h3.2M164.0 327.3h3.2M171.8 317.5V331.5M170.2 317.5h3.2M170.2 331.5h3.2M178.0 321.8V331.8M176.4 321.8h3.2M176.4 331.8h3.2M184.2 324.2V334.2M182.6 324.2h3.2M182.6 334.2h3.2M190.3 328.3V335.3M188.7 328.3h3.2M188.7 335.3h3.2M196.5 330.9V334.9M194.9 330.9h3.2M194.9 334.9h3.2M202.7 332.6V335.6M201.1 332.6h3.2M201.1 335.6h3.2M208.9 333.4V336.4M207.3 333.4h3.2M207.3 336.4h3.2M215.1 334.1V337.1M213.5 334.1h3.2M213.5 337.1h3.2M221.3 334.3V338.3M219.7 334.3h3.2M219.7 338.3h3.2M227.5 334.5V339.5M225.9 334.5h3.2M225.9 339.5h3.2" stroke="#111" stroke-width="1.2" fill="none"/>
<path d="M66.5 275L79 277L90.5 280L96.5 283L108 289.5L120.5 296.3L132 303L143.5 310L155 315.5L167.5 323L180 327.5L190 331.7L205 334.5L227.5 337" stroke="#111" stroke-width="2.4" fill="none" stroke-linejoin="round"/>
<rect x="69" y="310.3" width="25.6" height="44" fill="url(#cbar)"/>
<rect x="60.8" y="257.7" width="180.0" height="106.0" fill="none" stroke="#111" stroke-width="1.5"/>
<path d="M57.3 363.7h3.5M58.8 354.0h2M57.3 344.3h3.5M58.8 334.5h2M57.3 324.8h3.5M58.8 315.1h2M57.3 305.4h3.5M58.8 295.7h2M57.3 285.9h3.5M58.8 276.2h2M57.3 266.5h3.5M60.8 363.7v3.5M77.8 363.7v2M94.8 363.7v3.5M111.8 363.7v2M128.8 363.7v3.5M145.8 363.7v2M162.8 363.7v3.5M179.8 363.7v2M196.8 363.7v3.5M213.8 363.7v2M230.8 363.7v3.5" stroke="#111" stroke-width="1.1"/>
<text x="55.3" y="366.9" font-size="8.5" text-anchor="end" font-family="Liberation Sans, sans-serif" fill="#151515" stroke="#151515" stroke-width="0" >0.0</text>
<text x="55.3" y="347.46" font-size="8.5" text-anchor="end" font-family="Liberation Sans, sans-serif" fill="#151515" stroke="#151515" stroke-width="0" >0.2</text>
<text x="55.3" y="328.02" font-size="8.5" text-anchor="end" font-family="Liberation Sans, sans-serif" fill="#151515" stroke="#151515" stroke-width="0" >0.4</text>
<text x="55.3" y="308.58" font-size="8.5" text-anchor="end" font-family="Liberation Sans, sans-serif" fill="#151515" stroke="#151515" stroke-width="0" >0.6</text>
<text x="55.3" y="289.14" font-size="8.5" text-anchor="end" font-family="Liberation Sans, sans-serif" fill="#151515" stroke="#151515" stroke-width="0" >0.8</text>
<text x="55.3" y="269.7" font-size="8.5" text-anchor="end" font-family="Liberation Sans, sans-serif" fill="#151515" stroke="#151515" stroke-width="0" >1.0</text>
<text x="60.8" y="377.0" font-size="8.5" text-anchor="middle" font-family="Liberation Sans, sans-serif" fill="#151515" stroke="#151515" stroke-width="0" >0</text>
<text x="94.8" y="377.0" font-size="8.5" text-anchor="middle" font-family="Liberation Sans, sans-serif" fill="#151515" stroke="#151515" stroke-width="0" >200</text>
<text x="128.8" y="377.0" font-size="8.5" text-anchor="middle" font-family="Liberation Sans, sans-serif" fill="#151515" stroke="#151515" stroke-width="0" >400</text>
<text x="162.8" y="377.0" font-size="8.5" text-anchor="middle" font-family="Liberation Sans, sans-serif" fill="#151515" stroke="#151515" stroke-width="0" >600</text>
<text x="196.8" y="377.0" font-size="8.5" text-anchor="middle" font-family="Liberation Sans, sans-serif" fill="#151515" stroke="#151515" stroke-width="0" >800</text>
<text x="230.8" y="377.0" font-size="8.5" text-anchor="middle" font-family="Liberation Sans, sans-serif" fill="#151515" stroke="#151515" stroke-width="0" >1000</text>
<text x="145" y="392.7" font-size="9.3" text-anchor="middle" font-family="Liberation Serif, serif" fill="#151515" stroke="#151515" stroke-width="0.1" >Position (µm)</text>
<text transform="translate(33,312) rotate(-90)" font-size="9.3" text-anchor="middle" font-family="Liberation Serif, serif" fill="#151515" stroke="#151515" stroke-width="0.1">Normalized amplitude (a.u.)</text>
<text x="11" y="266.5" font-size="9.3" text-anchor="start" font-family="Liberation Serif, serif" fill="#151515" stroke="#151515" stroke-width="0.1" >(e)</text>
<path d="M156 264.3H175.5" stroke="#111" stroke-width="2.4"/>
<text x="178" y="266.90000000000003" font-size="7.6" text-anchor="start" font-family="Liberation Serif, serif" fill="#151515" stroke="#151515" stroke-width="0.1" >ESF (Original)</text>
<path d="M156 273.9H175.5" stroke="#20e030" stroke-width="2.4"/>
<text x="178" y="276.50000000000006" font-size="7.6" text-anchor="start" font-family="Liberation Serif, serif" fill="#151515" stroke="#151515" stroke-width="0.1" >ESF (1D SAFT)</text>
<path d="M156 283.5H175.5" stroke="#1010e0" stroke-width="2.4"/>
<text x="178" y="286.1" font-size="7.6" text-anchor="start" font-family="Liberation Serif, serif" fill="#151515" stroke="#151515" stroke-width="0.1" >ESF (Cross SAFT)</text>
<path d="M156 293.1H175.5" stroke="#e8141c" stroke-width="2.4"/>
<text x="178" y="295.70000000000005" font-size="7.6" text-anchor="start" font-family="Liberation Serif, serif" fill="#151515" stroke="#151515" stroke-width="0.1" >ESF (2D SAFT)</text>
<!-- panel j -->
<rect x="295.9" y="254.9" width="184.8" height="109.8" fill="#000"/>
<path d="M312.0 295.2L365.4 269.9L447.2 269.9L409.1 300.5L312.0 295.2L333.4 348.2L418.7 363.5L453.2 319.0L447.2 269.9M409.1 300.5L418.7 363.5" stroke="#c8c8c8" stroke-width="0.8" fill="none" stroke-linejoin="round"/>
<path d="M333.4 348.2L377.7 314.0L453.2 319.0M365.4 269.9L377.7 314.0" stroke="#8a8a8a" stroke-width="0.6" fill="none"/>
<g filter="url(#soft)">
<text transform="translate(369.5,281.5) rotate(80) scale(1,1.1)" font-size="25" text-anchor="middle" font-family="Liberation Sans, sans-serif" font-weight="bold" stroke-linejoin="round" stroke-linecap="round" dy="0.36em" fill="#a83404" stroke="#a83404" stroke-width="3.2">S</text><text transform="translate(369.5,281.5) rotate(80) scale(1,1.1)" font-size="25" text-anchor="middle" font-family="Liberation Sans, sans-serif" font-weight="bold" stroke-linejoin="round" stroke-linecap="round" dy="0.36em" fill="#ea6c14" stroke="#ea6c14" stroke-width="0.8">S</text>
<text transform="translate(378.5,302.0) rotate(76) scale(1,1)" font-size="25" text-anchor="middle" font-family="Liberation Sans, sans-serif" font-weight="bold" stroke-linejoin="round" stroke-linecap="round" dy="0.36em" fill="#a83404" stroke="#a83404" stroke-width="3.2">A</text><text transform="translate(378.5,302.0) rotate(76) scale(1,1)" font-size="25" text-anchor="middle" font-family="Liberation Sans, sans-serif" font-weight="bold" stroke-linejoin="round" stroke-linecap="round" dy="0.36em" fill="#ea6c14" stroke="#ea6c14" stroke-width="0.8">A</text>
<text transform="translate(391.7,320.5) rotate(84) scale(0.8,1.0)" font-size="30" text-anchor="middle" font-family="Liberation Sans, sans-serif" font-weight="bold" stroke-linejoin="round" stroke-linecap="round" dy="0.36em" fill="#a83404" stroke="#a83404" stroke-width="3.2">F</text><text transform="translate(391.7,320.5) rotate(84) scale(0.8,1.0)" font-size="30" text-anchor="middle" font-family="Liberation Sans, sans-serif" font-weight="bold" stroke-linejoin="round" stroke-linecap="round" dy="0.36em" fill="#ea6c14" stroke="#ea6c14" stroke-width="0.8">F</text>
<text transform="translate(408.0,346.0) rotate(172) scale(1.05,0.8)" font-size="32" text-anchor="middle" font-family="Liberation Sans, sans-serif" font-weight="bold" stroke-linejoin="round" stroke-linecap="round" dy="0.36em" fill="#a83404" stroke="#a83404" stroke-width="3.2">T</text><text transform="translate(408.0,346.0) rotate(172) scale(1.05,0.8)" font-size="32" text-anchor="middle" font-family="Liberation Sans, sans-serif" font-weight="bold" stroke-linejoin="round" stroke-linecap="round" dy="0.36em" fill="#ea6c14" stroke="#ea6c14" stroke-width="0.8">T</text>
<text transform="translate(410.0,285.3) rotate(85) scale(1,1.05)" font-size="26" text-anchor="middle" font-family="Liberation Sans, sans-serif" font-weight="bold" stroke-linejoin="round" stroke-linecap="round" dy="0.36em" fill="#a83404" stroke="#a83404" stroke-width="3.2">2</text><text transform="translate(410.0,285.3) rotate(85) scale(1,1.05)" font-size="26" text-anchor="middle" font-family="Liberation Sans, sans-serif" font-weight="bold" stroke-linejoin="round" stroke-linecap="round" dy="0.36em" fill="#ea6c14" stroke="#ea6c14" stroke-width="0.8">2</text>
<text transform="translate(424.5,302.4) rotate(-42) scale(0.95,0.95)" font-size="32" text-anchor="middle" font-family="Liberation Sans, sans-serif" font-weight="bold" stroke-linejoin="round" stroke-linecap="round" dy="0.36em" fill="#a83404" stroke="#a83404" stroke-width="3.2">D</text><text transform="translate(424.5,302.4) rotate(-42) scale(0.95,0.95)" font-size="32" text-anchor="middle" font-family="Liberation Sans, sans-serif" font-weight="bold" stroke-linejoin="round" stroke-linecap="round" dy="0.36em" fill="#ea6c14" stroke="#ea6c14" stroke-width="0.8">D</text>
</g>
<path d="M339.5 315.7L341.5 313.7L344.0 312.7M341.5 313.7V310.7" stroke="#cfd8ff" stroke-width="0.7" fill="none"/>
<circle cx="344.0" cy="312.7" r="0.6" fill="#40e040"/><circle cx="339.5" cy="315.7" r="0.6" fill="#4080ff"/>
<text x="275" y="266" font-size="9.3" text-anchor="start" font-family="Liberation Serif, serif" fill="#151515" stroke="#151515" stroke-width="0.1" >(j)</text>
</svg>
</body></html>
